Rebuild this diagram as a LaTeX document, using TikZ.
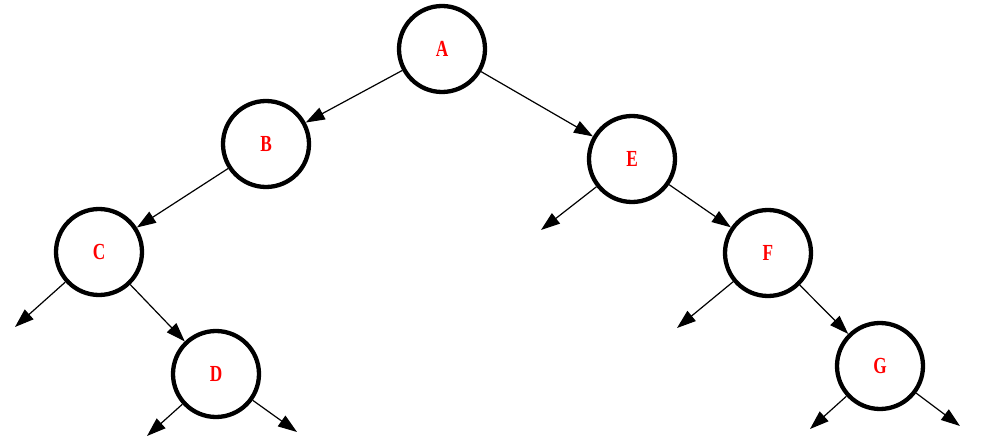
\documentclass[tikz,border=0pt]{standalone}
\usepackage{fontspec}
\setmainfont{Liberation Serif}
\usetikzlibrary{arrows.meta}
\begin{document}
\begin{tikzpicture}[x=1pt,y=-1pt,
  tnode/.style={circle,draw=black,line width=4.3pt,minimum size=86pt,inner sep=0pt,
    text=red,font=\fontsize{23}{23}\selectfont\bfseries},
  edge/.style={line width=1.2pt,-{Triangle[length=19pt,width=13pt]}}]
\useasboundingbox (0,0) rectangle (985,438);
\node[tnode] (A) at (442,49) {\scalebox{0.75}[1]{A}};
\node[tnode] (B) at (266,144) {\scalebox{0.75}[1]{B}};
\node[tnode] (C) at (99,252) {\scalebox{0.75}[1]{C}};
\node[tnode] (D) at (216,374) {\scalebox{0.75}[1]{D}};
\node[tnode] (E) at (632,159) {\scalebox{0.75}[1]{E}};
\node[tnode] (F) at (768,253) {\scalebox{0.75}[1]{F}};
\node[tnode] (G) at (880,366) {\scalebox{0.75}[1]{G}};
\coordinate (c1) at (15,327);
\coordinate (d1) at (147,436);
\coordinate (d2) at (297,432);
\coordinate (e1) at (541,230);
\coordinate (f1) at (677,328);
\coordinate (g1) at (810,429);
\coordinate (g2) at (960,426);
\draw[edge] (A) -- (B);
\draw[edge] (A) -- (E);
\draw[edge] (B) -- (C);
\draw[edge] (C) -- (D);
\draw[edge] (C) -- (c1);
\draw[edge] (D) -- (d1);
\draw[edge] (D) -- (d2);
\draw[edge] (E) -- (e1);
\draw[edge] (E) -- (F);
\draw[edge] (F) -- (f1);
\draw[edge] (F) -- (G);
\draw[edge] (G) -- (g1);
\draw[edge] (G) -- (g2);
\end{tikzpicture}
\end{document}
